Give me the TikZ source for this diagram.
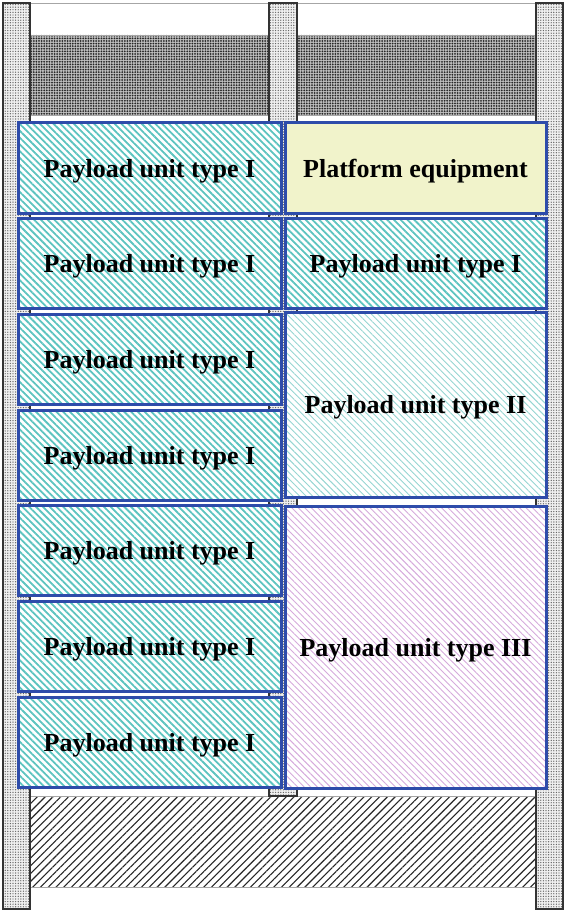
\documentclass[tikz,border=0pt]{standalone}
\usepackage{fontspec}
\setmainfont{Liberation Serif}
\usetikzlibrary{patterns.meta}

\definecolor{unitblue}{RGB}{46,76,170}
\definecolor{hatchcyan}{RGB}{92,196,192}
\definecolor{hatchpale}{RGB}{150,214,210}
\definecolor{hatchpink}{RGB}{214,170,220}
\definecolor{platyellow}{RGB}{241,243,200}

\begin{document}
\begin{tikzpicture}
  [x=1pt, y=-1pt,
   post/.style={draw=black!80, line width=1.4pt, preaction={fill=gray!12},
     pattern={Dots[distance=2.6pt,radius=0.7pt]}, pattern color=black!60},
   band/.style={draw=gray!70, line width=0.8pt, preaction={fill=black!25},
     pattern={Dots[distance=2.6pt,radius=1pt]}, pattern color=black!85},
   base/.style={draw=gray!70, line width=0.8pt, preaction={fill=white},
     pattern={Lines[angle=45,distance=5.5pt,line width=1.1pt]}, pattern color=black!85},
   unit/.style={rectangle, draw=unitblue, line width=3pt, inner sep=0pt,
     text depth=0pt, font=\fontsize{26}{30}\selectfont\bfseries, text=black},
   typeone/.style={unit, preaction={fill=white},
     pattern={Lines[angle=-45,distance=4.8pt,line width=1.8pt]}, pattern color=hatchcyan},
   typetwo/.style={unit, preaction={fill=white},
     pattern={Lines[angle=-45,distance=4.6pt,line width=0.9pt]}, pattern color=hatchpale},
   typethree/.style={unit, preaction={fill=white},
     pattern={Lines[angle=-45,distance=4.6pt,line width=0.9pt]}, pattern color=hatchpink},
   platform/.style={unit, preaction={fill=platyellow},
     pattern={Dots[distance=2pt,radius=0.35pt]}, pattern color=white!70!platyellow}]

  \useasboundingbox (0,0) rectangle (566,912);

  % rack frame
  \draw[gray!70, line width=0.8pt, fill=white] (30,3) rectangle (536,796);
  \path[band] (30,35) rectangle (269,115);
  \path[band] (297,35) rectangle (536,115);
  \path[base] (30,796) rectangle (536,887);
  \path[post] (3,3) rectangle (30,909);
  \path[post] (269,3) rectangle (297,796);
  \path[post] (536,3) rectangle (563,909);

  % left column
  \foreach \i in {1,...,7}
    \node[typeone, minimum width=263pt, minimum height=90pt]
      (left\i) at (149.5,{168+(\i-1)*95.7}) {Payload unit type I};

  % right column
  \node[platform, minimum width=261pt, minimum height=90pt]
    (plat) at (415.5,168) {Platform equipment};
  \node[typeone, minimum width=261pt, minimum height=90pt]
    (right1) at (415.5,263) {Payload unit type I};
  \node[typetwo, minimum width=261pt, minimum height=185pt]
    (right2) at (415.5,404.5) {Payload unit type II};
  \node[typethree, minimum width=261pt, minimum height=282pt]
    (right3) at (415.5,647) {Payload unit type III};
\end{tikzpicture}
\end{document}
